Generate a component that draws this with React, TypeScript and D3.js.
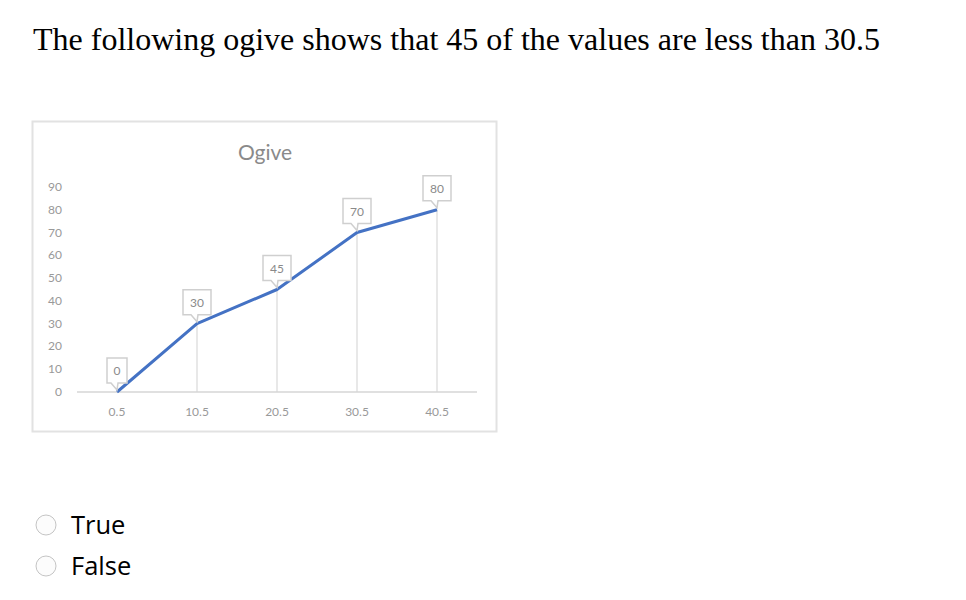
import React from "react";
import * as d3 from "d3";

const categories = ["0.5", "10.5", "20.5", "30.5", "40.5"];
const values = [0, 30, 45, 70, 80];
const yTicks = [0, 10, 20, 30, 40, 50, 60, 70, 80, 90];
const heading = "The following ogive shows that 45 of the values are less than 30.5";
const chartTitle = "Ogive";
const options = ["True", "False"];

const FONT = "Lato, 'Open Sans', sans-serif";

export default function App() {
  const x = d3.scalePoint<string>().domain(categories).range([77, 477]).padding(0.5);
  const y = d3.scaleLinear().domain([0, 90]).range([392, 187]);
  const line = d3
    .line<number>()
    .x((_, i) => x(categories[i]) as number)
    .y((d) => y(d));

  const labelW = (t: string) => (t.length === 1 ? 20 : 28);

  return (
    <svg
      width={966}
      height={600}
      style={{ position: "absolute", left: 0, top: 0, background: "#fff" }}
    >
      <text x={33} y={50} fontFamily="'Liberation Serif', 'Times New Roman', serif" fontSize={32} fill="#000">
        {heading}
      </text>

      <rect x={32.5} y={121.5} width={464} height={310} fill="#fff" stroke="#e2e2e2" strokeWidth={2} />
      <text x={265} y={160} textAnchor="middle" fontFamily={FONT} fontSize={21} fill="#8a8a8a">
        {chartTitle}
      </text>

      {yTicks.map((t) => (
        <text key={t} x={62} y={y(t) + 4} textAnchor="end" fontFamily={FONT} fontSize={12} fill="#999">
          {t}
        </text>
      ))}

      {values.map((v, i) =>
        v > 0 ? (
          <line
            key={"d" + i}
            x1={x(categories[i])}
            x2={x(categories[i])}
            y1={y(v)}
            y2={y(0)}
            stroke="#dcdcdc"
            strokeWidth={1.3}
          />
        ) : null
      )}

      <line x1={77} x2={477} y1={y(0)} y2={y(0)} stroke="#d6d6d6" strokeWidth={1.5} />

      {categories.map((c) => (
        <text key={c} x={x(c)} y={416} textAnchor="middle" fontFamily={FONT} fontSize={12} fill="#999">
          {c}
        </text>
      ))}

      <path d={line(values) || ""} fill="none" stroke="#4472C4" strokeWidth={3} strokeLinejoin="round" />

      {values.map((v, i) => {
        const cx = x(categories[i]) as number;
        const py = y(v);
        const w = labelW(String(v));
        const h = 25;
        const bottom = py - 9;
        const top = bottom - h;
        const l = cx - w / 2;
        const r = cx + w / 2;
        const d = `M${l},${top} L${r},${top} L${r},${bottom} L${cx + 1},${bottom} L${cx},${py - 2} L${cx - 6},${bottom} L${l},${bottom} Z`;
        return (
          <g key={"l" + i}>
            <path d={d} fill="#fff" stroke="#cfcfcf" strokeWidth={1.5} />
            <text x={cx} y={top + 17} textAnchor="middle" fontFamily={FONT} fontSize={12} fill="#8a8a8a">
              {v}
            </text>
          </g>
        );
      })}

      {options.map((o, i) => (
        <g key={o}>
          <circle cx={46} cy={525 + i * 41} r={10} fill="#fcfcfc" stroke="#c4c4c4" strokeWidth={1} />
          <text x={71} y={534 + i * 41} fontFamily="'Open Sans', 'Noto Sans', sans-serif" fontSize={25.5} fill="#000">
            {o}
          </text>
        </g>
      ))}
    </svg>
  );
}
